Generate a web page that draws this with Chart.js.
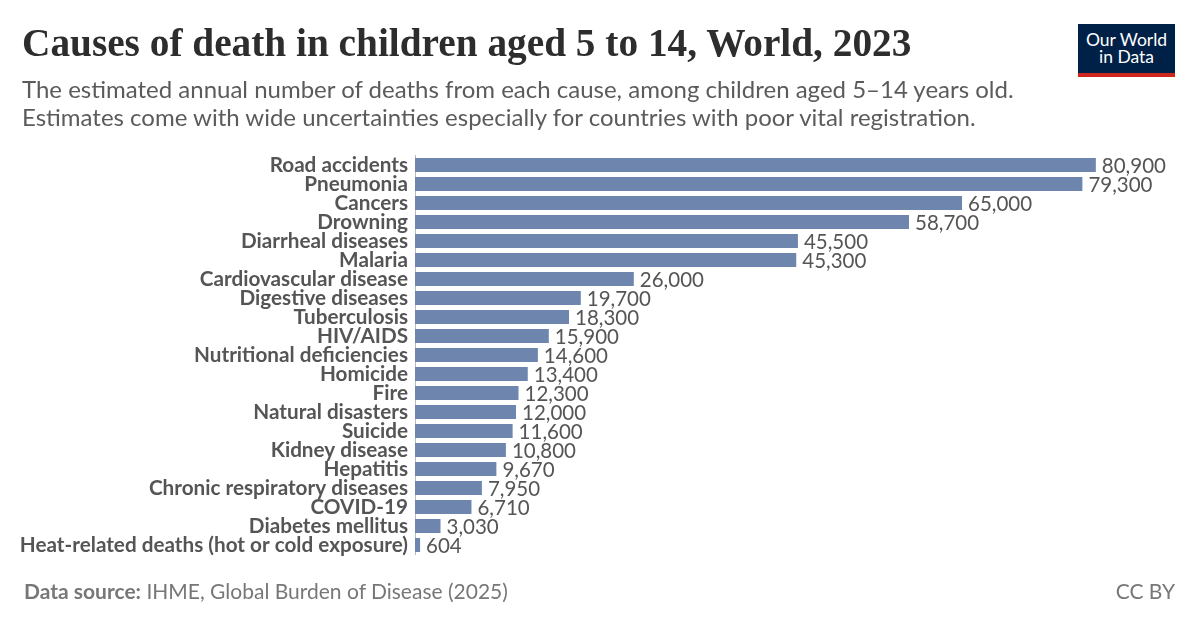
<!DOCTYPE html>
<html>
<head>
<meta charset="utf-8">
<script src="https://cdn.jsdelivr.net/npm/chart.js@4"></script>
<style>
  html, body { margin: 0; padding: 0; background: #fff; }
  body { width: 1200px; height: 627px; position: relative; overflow: hidden; font-family: Lato, "Noto Sans", sans-serif; }
  #title { position: absolute; left: 22px; top: 24px; font-family: "Liberation Serif", serif; font-weight: bold; font-size: 39.3px; color: #2d2d2d; white-space: nowrap; line-height: 1; }
  #subtitle { position: absolute; left: 22px; top: 75px; font-size: 24px; color: #5b5b5b; line-height: 28px; white-space: nowrap; }
  #logo { position: absolute; left: 1078px; top: 24px; width: 97px; height: 53px; background: #002147; color: #fff; box-sizing: border-box; border-bottom: 4px solid #ce261e; font-size: 17.5px; line-height: 17px; text-align: center; padding-top: 7px; }
  #source { position: absolute; left: 24px; top: 578px; font-size: 21px; color: #777; white-space: nowrap; }
  #source b { font-weight: bold; }
  #license { position: absolute; right: 25px; top: 578px; font-size: 21px; color: #777; }
  #wrap { position: absolute; left: 0; top: 0; width: 1200px; height: 627px; }
</style>
</head>
<body>
<div id="wrap"><canvas id="c" width="1200" height="627"></canvas></div>
<div id="title">Causes of death in children aged 5 to 14, World, 2023</div>
<div id="subtitle">The estimated annual number of deaths from each cause, among children aged 5–14 years old.<br>Estimates come with wide uncertainties especially for countries with poor vital registration.</div>
<div id="logo">Our World<br>in Data</div>
<div id="source"><b>Data source:</b> IHME, Global Burden of Disease (2025)</div>
<div id="license">CC BY</div>
<script>
const categories = [
  "Road accidents", "Pneumonia", "Cancers", "Drowning", "Diarrheal diseases", "Malaria",
  "Cardiovascular disease", "Digestive diseases", "Tuberculosis", "HIV/AIDS",
  "Nutritional deficiencies", "Homicide", "Fire", "Natural disasters", "Suicide",
  "Kidney disease", "Hepatitis", "Chronic respiratory diseases", "COVID-19",
  "Diabetes mellitus", "Heat-related deaths (hot or cold exposure)"
];
const deaths = [80900, 79300, 65000, 58700, 45500, 45300, 26000, 19700, 18300, 15900,
  14600, 13400, 12300, 12000, 11600, 10800, 9670, 7950, 6710, 3030, 604];

const XMAX = 90900;
const AXIS_LEFT = 415;

const valueLabels = {
  id: 'valueLabels',
  afterDatasetsDraw(chart) {
    const ctx = chart.ctx;
    const meta = chart.getDatasetMeta(0);
    ctx.save();
    ctx.font = '20.5px Lato, sans-serif';
    ctx.fillStyle = '#555';
    ctx.textBaseline = 'middle';
    ctx.textAlign = 'left';
    meta.data.forEach((bar, i) => {
      ctx.fillText(deaths[i].toLocaleString('en-US'), bar.x + 6, bar.y + 1);
    });
    ctx.restore();
  }
};

new Chart(document.getElementById('c'), {
  type: 'bar',
  data: {
    labels: categories,
    datasets: [{
      data: deaths,
      backgroundColor: '#6e86ae',
      borderWidth: 0,
      barPercentage: 0.74,
      categoryPercentage: 1
    }]
  },
  options: {
    indexAxis: 'y',
    responsive: false,
    animation: false,
    events: [],
    layout: { padding: { top: 155.5, bottom: 72.5, left: 0, right: 20 } },
    plugins: { legend: { display: false }, tooltip: { enabled: false } },
    scales: {
      x: { display: false, min: 0, max: XMAX },
      y: {
        afterFit(scale) { scale.width = AXIS_LEFT; },
        grid: { display: false, drawTicks: false },
        border: { display: true, color: '#bbb', width: 1 },
        ticks: { color: '#555', font: { family: 'Lato', weight: 'bold', size: 20.7 }, padding: 7, autoSkip: false }
      }
    }
  },
  plugins: [valueLabels]
});
</script>
</body>
</html>
